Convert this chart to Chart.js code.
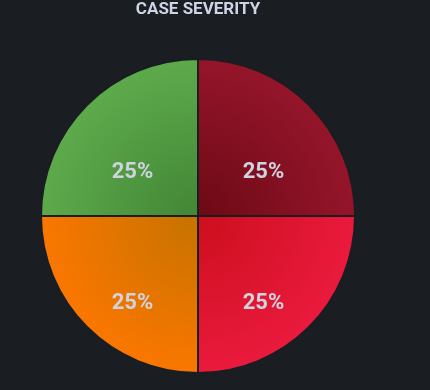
<!DOCTYPE html>
<html>
<head>
<meta charset="utf-8">
<script src="https://cdn.jsdelivr.net/npm/chart.js@4.4.1/dist/chart.umd.min.js"></script>
<style>
  html, body { margin: 0; padding: 0; background: #1a1d21; }
  #wrap { width: 430px; height: 390px; }
</style>
</head>
<body>
<div id="wrap"><canvas id="mycanvas" width="430" height="390"></canvas></div>
<script>
var severities = ['Critical', 'High', 'Medium', 'Low'];
var caseCounts = [25, 25, 25, 25];
// inner / outer colour of each slice gradient
var innerColors = ['#6c0a14', '#cc0f1d', '#c67200', '#438636'];
var outerColors = ['#95152a', '#ea1a3d', '#fa7700', '#5daa4b'];

function sliceGradient(context) {
    var chart = context.chart;
    var area = chart.chartArea;
    if (!area) return outerColors[context.dataIndex];
    var cx = (area.left + area.right) / 2;
    var cy = (area.top + area.bottom) / 2;
    var r = Math.min(area.right - area.left, area.bottom - area.top) / 2;
    var g = chart.ctx.createRadialGradient(cx, cy, 0, cx, cy, r);
    g.addColorStop(0, innerColors[context.dataIndex]);
    g.addColorStop(1, outerColors[context.dataIndex]);
    return g;
}

var percentLabels = {
    id: 'percentLabels',
    afterDatasetsDraw: function (chart) {
        var ctx = chart.ctx;
        var meta = chart.getDatasetMeta(0);
        var data = chart.data.datasets[0].data;
        var total = 0;
        for (var i in data) total += data[i];
        ctx.save();
        ctx.font = 'bold 22px Roboto';
        ctx.fillStyle = '#cfd3e0';
        ctx.textAlign = 'center';
        ctx.textBaseline = 'middle';
        meta.data.forEach(function (arc, i) {
            var mid = (arc.startAngle + arc.endAngle) / 2;
            var d = arc.outerRadius * 0.59;
            var x = arc.x + Math.cos(mid) * d;
            var y = arc.y + Math.sin(mid) * d + 22;
            ctx.fillText(Math.round(data[i] / total * 100) + '%', x, y);
        });
        ctx.restore();
    }
};

var ctx = document.getElementById('mycanvas');
var pieChart = new Chart(ctx, {
    type: 'pie',
    data: {
        labels: severities,
        datasets: [{
            data: caseCounts,
            backgroundColor: sliceGradient,
            borderColor: '#1a1d21',
            borderWidth: 2
        }]
    },
    options: {
        responsive: false,
        animation: false,
        layout: { padding: { left: 40, right: 74, top: 0, bottom: 16 } },
        plugins: {
            legend: { display: false },
            tooltip: { enabled: false },
            title: {
                display: true,
                text: 'CASE SEVERITY',
                color: '#ccd4e6',
                fullSize: false,
                font: { family: 'Roboto', size: 17, weight: 'bold', lineHeight: 1 },
                padding: { top: 1, bottom: 40 }
            }
        }
    },
    plugins: [percentLabels]
});
</script>
</body>
</html>
